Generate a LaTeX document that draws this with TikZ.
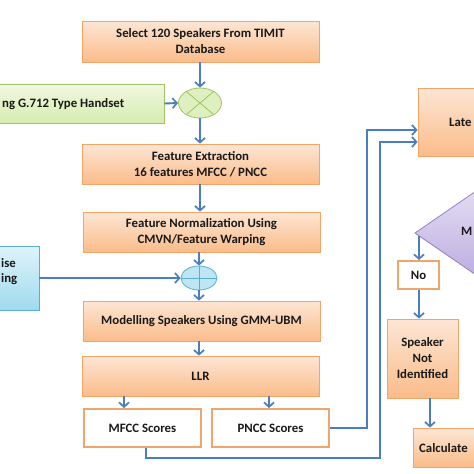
\documentclass[tikz,border=0pt]{standalone}
\usepackage{fontspec}
\setmainfont{Carlito}
\usetikzlibrary{arrows.meta,shapes.geometric,shadows}
\definecolor{otop}{RGB}{253,230,212}
\definecolor{obot}{RGB}{250,188,138}
\definecolor{oborder}{RGB}{242,165,105}
\definecolor{gtop}{RGB}{240,248,224}
\definecolor{gbot}{RGB}{214,236,176}
\definecolor{gborder}{RGB}{160,196,100}
\definecolor{btop}{RGB}{222,244,251}
\definecolor{bbot}{RGB}{160,218,238}
\definecolor{bborder}{RGB}{90,175,205}
\definecolor{ptop}{RGB}{232,226,246}
\definecolor{pbot}{RGB}{184,168,222}
\definecolor{pborder}{RGB}{150,130,195}
\definecolor{arr}{RGB}{74,126,190}
\tikzset{
  every node/.style={font=\fontsize{12.8}{16}\selectfont\bfseries, text=black!90},
  obox/.style={rectangle, draw=oborder, line width=0.8pt, top color=otop, bottom color=obot,
    drop shadow={shadow xshift=1.2pt, shadow yshift=-1.2pt, fill=black!25}, inner sep=0pt, align=center},
  wbox/.style={rectangle, draw=oborder, line width=2pt, fill=white, inner sep=0pt, align=center},
  gbox/.style={rectangle, draw=gborder, line width=0.8pt, top color=gtop, bottom color=gbot,
    drop shadow={shadow xshift=1.2pt, shadow yshift=-1.2pt, fill=black!25}, inner sep=0pt},
  bbox/.style={rectangle, draw=bborder, line width=0.8pt, top color=btop, bottom color=bbot,
    drop shadow={shadow xshift=1.2pt, shadow yshift=-1.2pt, fill=black!25}, inner sep=0pt},
  gell/.style={ellipse, draw=gborder, line width=0.8pt, fill=gbot!80!white, inner sep=0pt},
  bell/.style={ellipse, draw=bborder, line width=0.8pt, fill=bbot!70!white, inner sep=0pt},
  flow/.style={draw=arr, line width=1.9pt, -{Straight Barb[length=4.5pt,width=10pt,line width=1.7pt]}},
  link/.style={draw=arr, line width=1.7pt, -{Straight Barb[length=4.5pt,width=10pt,line width=1.7pt]}},
  plain/.style={anchor=west, inner sep=0pt}
}
\begin{document}
\begin{tikzpicture}[x=1pt,y=-1pt]
\useasboundingbox (0,0) rectangle (474,474);
\clip (0,0) rectangle (474,474);
\fill[white] (0,0) rectangle (474,474);
% main column
\node[obox, minimum width=237pt, minimum height=41pt] (sel) at (200.5,41.5) {Select 120 Speakers From TIMIT\\Database};
\node[gbox, minimum width=224pt, minimum height=39pt] (hand) at (52,103.5) {};
\node[plain] (handt) at (2,104) {ng G.712 Type Handset};
\node[gell, minimum width=43pt, minimum height=30pt] (mix) at (200,103) {};
\draw[gborder, line width=0.8pt] (mix.40) -- (mix.220) (mix.140) -- (mix.320);
\node[obox, minimum width=237pt, minimum height=40pt] (fe) at (200.5,164) {Feature Extraction\\16 features MFCC / PNCC};
\node[obox, minimum width=237pt, minimum height=40pt] (fn) at (201.5,232) {Feature Normalization Using\\CMVN/Feature Warping};
\node[bbox, minimum width=80pt, minimum height=64pt] (noise) at (-1,278) {};
\node[plain] (noiset) at (1,263) {ise};
\node[plain] (noiset2) at (1,279) {ing};
\node[bell, minimum width=36pt, minimum height=24pt] (add) at (199,278) {};
\draw[bborder, line width=0.8pt] (add.north) -- (add.south) (add.west) -- (add.east);
\node[obox, minimum width=237pt, minimum height=40pt] (gmm) at (201.5,321) {Modelling Speakers Using GMM-UBM};
\node[obox, minimum width=237pt, minimum height=40pt] (llr) at (200.5,376) {LLR};
\node[wbox, minimum width=117pt, minimum height=38pt] (mfcc) at (142.5,428) {MFCC Scores};
\node[wbox, minimum width=117pt, minimum height=38pt] (pncc) at (270.5,428) {PNCC Scores};
% right column
\node[obox, minimum width=92pt, minimum height=68pt] (late) at (464,122) {};
\node[plain] (latet) at (449,122) {Late};
\path[draw=pborder, line width=0.8pt, top color=ptop, bottom color=pbot,
  drop shadow={shadow xshift=1.2pt, shadow yshift=-1.2pt, fill=black!25}]
  (415,233) -- (495,178) -- (575,233) -- (495,288) -- cycle;
\node[plain] (dect) at (461,231) {M};
\coordinate (dl) at (419,236);
\node[wbox, minimum width=41pt, minimum height=28pt] (no) at (418.5,275) {No};
\node[obox, minimum width=71pt, minimum height=79pt] (spk) at (422.5,358.5) {Speaker\\Not\\Identified};
\node[obox, minimum width=107pt, minimum height=39pt] (calc) at (466.5,447.5) {};
\node[plain] (calct) at (419,448) {Calculate};
% connectors
\draw[flow] (sel.south -| mix.north) -- (mix.north);
\draw[flow] (hand.east) -- (mix.west);
\draw[flow] (mix.south) -- (fe.north -| mix.south);
\draw[flow] (fe.south -| mix.south) -- (fn.north -| mix.south);
\draw[flow] (fn.south -| add.north) -- (add.north);
\draw[flow] (noise.east |- add.west) -- (add.west);
\draw[flow] (add.south) -- (gmm.north -| add.south);
\draw[flow] (gmm.south -| add.south) -- (llr.north -| add.south);
\draw[flow] (llr.south -| 124,0) -- (mfcc.north -| 124,0);
\draw[flow] (llr.south -| 269,0) -- (pncc.north -| 269,0);
\draw[link] (mfcc.south -| 146,0) -- (146,458) -- (380,458) -- (380,142) -- (late.west |- 0,142);
\draw[link] (pncc.east) -- (367,428) -- (367,130) -- (late.west |- 0,130);
\draw[flow] (dl) -- (no.north -| dl);
\draw[flow] (no.south -| dl) -- (spk.north -| dl);
\draw[flow] (spk.south -| 430,0) -- (calc.north -| 430,0);
\end{tikzpicture}
\end{document}
